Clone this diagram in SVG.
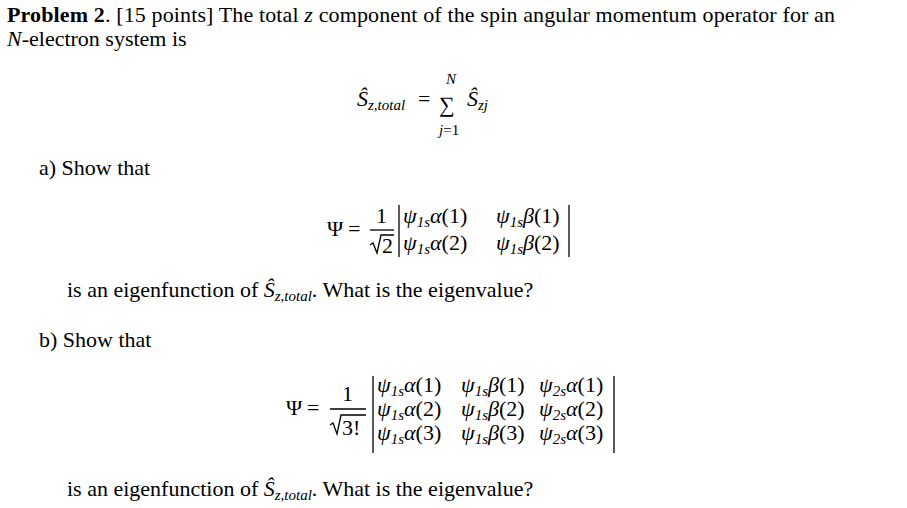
<svg xmlns="http://www.w3.org/2000/svg" width="907" height="508" viewBox="0 0 907 508">
<style>
text{font-family:"Liberation Serif","DejaVu Serif",serif;font-size:22px;fill:#000}
.i{font-style:italic}
.s{font-size:15px}
line,path{stroke:#000;stroke-width:1.3;fill:none}
</style>
<rect width="907" height="508" fill="#fff"/>
<text x="7" y="22" textLength="828" lengthAdjust="spacing"><tspan font-weight="bold">Problem 2</tspan>.  [15 points] The total <tspan class="i">z</tspan> component of the spin angular momentum operator for an</text>
<text x="7" y="46"><tspan class="i">N</tspan>-electron system is</text>
<g id="eq1">
<text x="357" y="106" class="i">Ŝ<tspan class="s" dy="4">z,total</tspan></text>
<text x="418" y="106">=</text>
<text x="439" y="112" font-size="34">∑</text>
<text x="446" y="84" class="i s">N</text>
<text x="439" y="135" class="s"><tspan class="i">j</tspan>=1</text>
<text x="467" y="106" class="i">Ŝ<tspan class="s" dy="4">zj</tspan></text>
</g>
<text x="39" y="175">a)  Show that</text>
<g id="eq2">
<text x="327" y="236">Ψ</text>
<text x="348" y="236">=</text>
<text x="376" y="223">1</text>
<line x1="370" y1="230" x2="394" y2="230"/>
<path d="M370 245 L373 243 L377 253 L381 235 L394 235"/>
<text x="382" y="253">2</text>
<line x1="399" y1="205" x2="399" y2="257"/>
<line x1="569" y1="205" x2="569" y2="257"/>
<text x="403" y="223" class="i">ψ<tspan class="s" dy="4">1s</tspan><tspan dy="-4">α</tspan><tspan font-style="normal">(1)</tspan></text>
<text x="496" y="223" class="i">ψ<tspan class="s" dy="4">1s</tspan><tspan dy="-4">β</tspan><tspan font-style="normal">(1)</tspan></text>
<text x="403" y="250" class="i">ψ<tspan class="s" dy="4">1s</tspan><tspan dy="-4">α</tspan><tspan font-style="normal">(2)</tspan></text>
<text x="496" y="250" class="i">ψ<tspan class="s" dy="4">1s</tspan><tspan dy="-4">β</tspan><tspan font-style="normal">(2)</tspan></text>
</g>
<text x="67" y="297">is an eigenfunction of <tspan class="i">Ŝ</tspan><tspan class="i s" dy="4">z,total</tspan><tspan dy="-4">. What is the eigenvalue?</tspan></text>
<text x="39" y="347">b)  Show that</text>
<g id="eq3">
<text x="286" y="415">Ψ</text>
<text x="307" y="415">=</text>
<text x="342" y="401">1</text>
<line x1="330" y1="409" x2="366" y2="409"/>
<path d="M330 425 L333 423 L337 434 L341 415 L366 415"/>
<text x="342" y="435">3!</text>
<line x1="373" y1="376" x2="373" y2="453"/>
<line x1="614" y1="376" x2="614" y2="453"/>
<text x="377" y="392" class="i">ψ<tspan class="s" dy="4">1s</tspan><tspan dy="-4">α</tspan><tspan font-style="normal">(1)</tspan></text>
<text x="461" y="392" class="i">ψ<tspan class="s" dy="4">1s</tspan><tspan dy="-4">β</tspan><tspan font-style="normal">(1)</tspan></text>
<text x="539" y="392" class="i">ψ<tspan class="s" dy="4">2s</tspan><tspan dy="-4">α</tspan><tspan font-style="normal">(1)</tspan></text>
<text x="377" y="416" class="i">ψ<tspan class="s" dy="4">1s</tspan><tspan dy="-4">α</tspan><tspan font-style="normal">(2)</tspan></text>
<text x="461" y="416" class="i">ψ<tspan class="s" dy="4">1s</tspan><tspan dy="-4">β</tspan><tspan font-style="normal">(2)</tspan></text>
<text x="539" y="416" class="i">ψ<tspan class="s" dy="4">2s</tspan><tspan dy="-4">α</tspan><tspan font-style="normal">(2)</tspan></text>
<text x="377" y="440" class="i">ψ<tspan class="s" dy="4">1s</tspan><tspan dy="-4">α</tspan><tspan font-style="normal">(3)</tspan></text>
<text x="461" y="440" class="i">ψ<tspan class="s" dy="4">1s</tspan><tspan dy="-4">β</tspan><tspan font-style="normal">(3)</tspan></text>
<text x="539" y="440" class="i">ψ<tspan class="s" dy="4">2s</tspan><tspan dy="-4">α</tspan><tspan font-style="normal">(3)</tspan></text>
</g>
<text x="67" y="496">is an eigenfunction of <tspan class="i">Ŝ</tspan><tspan class="i s" dy="4">z,total</tspan><tspan dy="-4">. What is the eigenvalue?</tspan></text>
</svg>
